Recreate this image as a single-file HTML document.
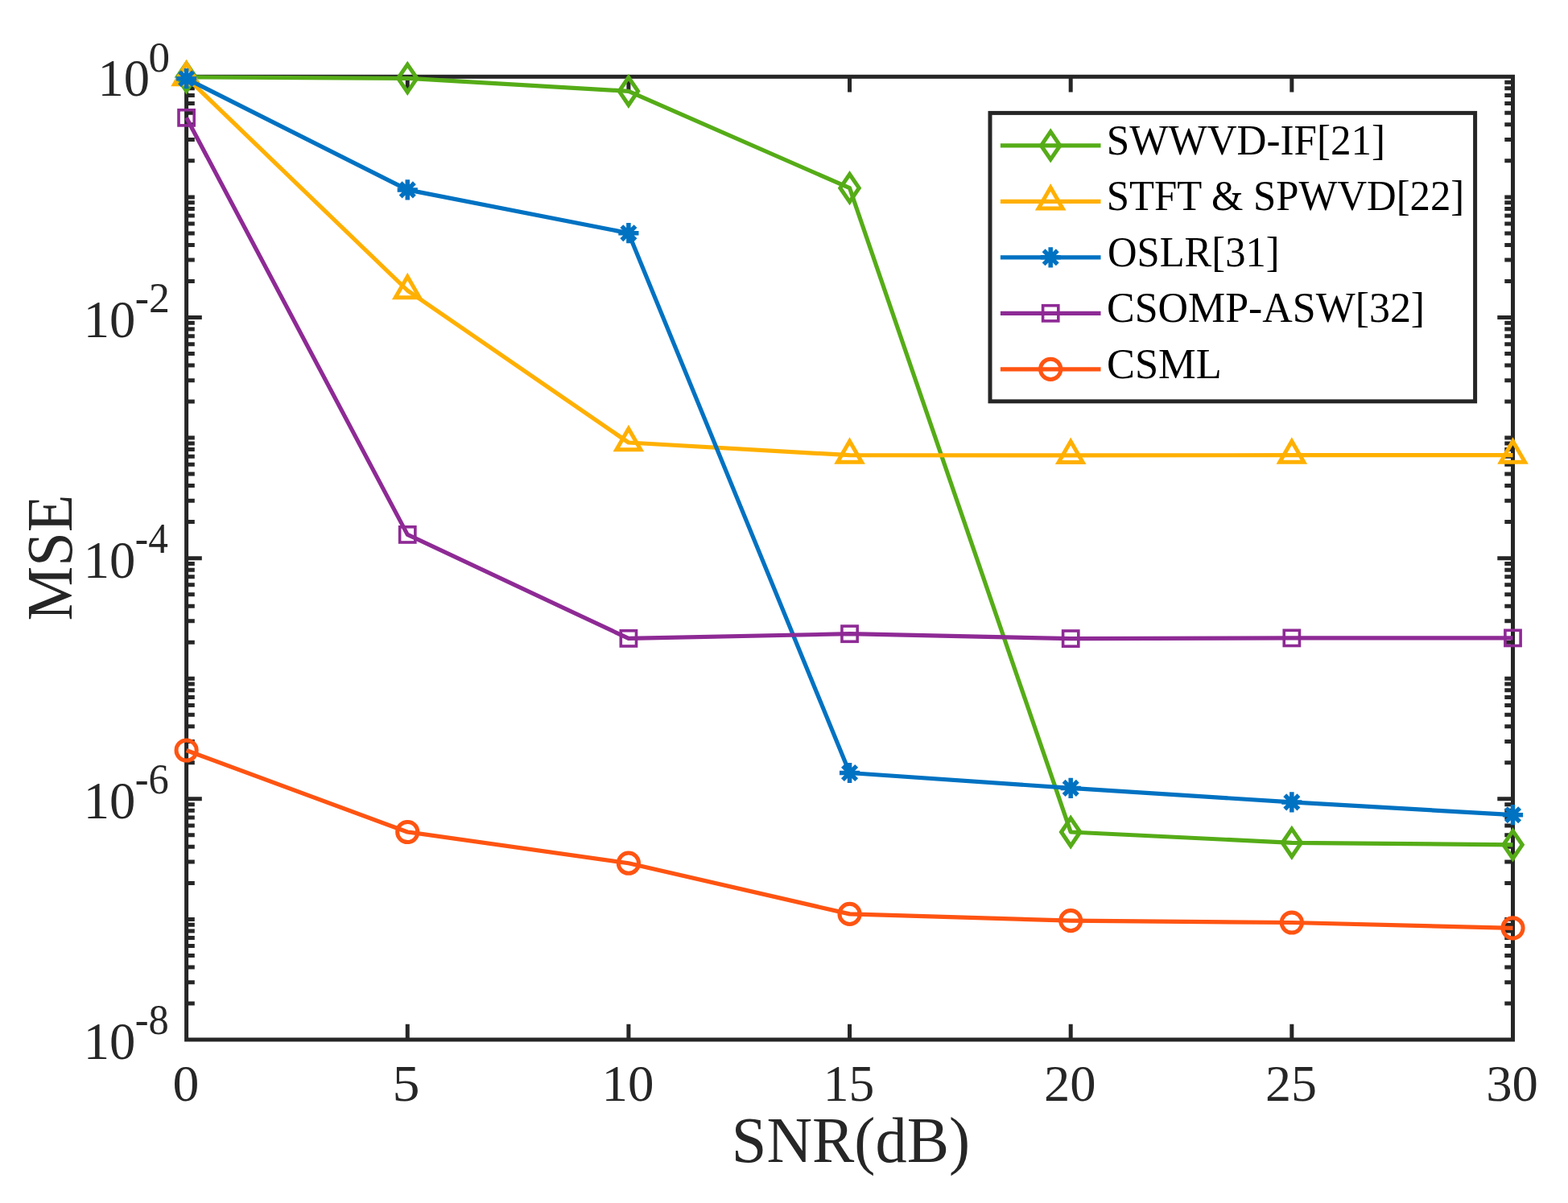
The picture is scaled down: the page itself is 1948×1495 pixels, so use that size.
<!DOCTYPE html><html><head><meta charset="utf-8"><title>MSE vs SNR</title><style>html,body{margin:0;padding:0;background:#fff;overflow:hidden}svg{display:block}</style></head><body><svg width="1948" height="1495" viewBox="0 0 1948 1495">
<rect width="1948" height="1495" fill="#fff"/>
<path d="M506.25 1292V1272.8M506.25 95.3V114.5M780.9 1292V1272.8M780.9 95.3V114.5M1055.55 1292V1272.8M1055.55 95.3V114.5M1330.2 1292V1272.8M1330.2 95.3V114.5M1604.85 1292V1272.8M1604.85 95.3V114.5M231.6 244.89H241.8M1879.5 244.89H1869.3M231.6 394.48H250.8M1879.5 394.48H1860.3M231.6 544.06H241.8M1879.5 544.06H1869.3M231.6 693.65H250.8M1879.5 693.65H1860.3M231.6 843.24H241.8M1879.5 843.24H1869.3M231.6 992.83H250.8M1879.5 992.83H1860.3M231.6 1142.41H241.8M1879.5 1142.41H1869.3M231.6 199.86H241.8M1879.5 199.86H1869.3M231.6 173.52H241.8M1879.5 173.52H1869.3M231.6 154.83H241.8M1879.5 154.83H1869.3M231.6 140.33H241.8M1879.5 140.33H1869.3M231.6 128.49H241.8M1879.5 128.49H1869.3M231.6 118.47H241.8M1879.5 118.47H1869.3M231.6 109.8H241.8M1879.5 109.8H1869.3M231.6 102.14H241.8M1879.5 102.14H1869.3M231.6 349.44H241.8M1879.5 349.44H1869.3M231.6 323.1H241.8M1879.5 323.1H1869.3M231.6 304.41H241.8M1879.5 304.41H1869.3M231.6 289.92H241.8M1879.5 289.92H1869.3M231.6 278.07H241.8M1879.5 278.07H1869.3M231.6 268.06H241.8M1879.5 268.06H1869.3M231.6 259.38H241.8M1879.5 259.38H1869.3M231.6 251.73H241.8M1879.5 251.73H1869.3M231.6 499.03H241.8M1879.5 499.03H1869.3M231.6 472.69H241.8M1879.5 472.69H1869.3M231.6 454H241.8M1879.5 454H1869.3M231.6 439.51H241.8M1879.5 439.51H1869.3M231.6 427.66H241.8M1879.5 427.66H1869.3M231.6 417.65H241.8M1879.5 417.65H1869.3M231.6 408.97H241.8M1879.5 408.97H1869.3M231.6 401.32H241.8M1879.5 401.32H1869.3M231.6 648.62H241.8M1879.5 648.62H1869.3M231.6 622.28H241.8M1879.5 622.28H1869.3M231.6 603.59H241.8M1879.5 603.59H1869.3M231.6 589.09H241.8M1879.5 589.09H1869.3M231.6 577.25H241.8M1879.5 577.25H1869.3M231.6 567.23H241.8M1879.5 567.23H1869.3M231.6 558.56H241.8M1879.5 558.56H1869.3M231.6 550.91H241.8M1879.5 550.91H1869.3M231.6 798.21H241.8M1879.5 798.21H1869.3M231.6 771.87H241.8M1879.5 771.87H1869.3M231.6 753.18H241.8M1879.5 753.18H1869.3M231.6 738.68H241.8M1879.5 738.68H1869.3M231.6 726.84H241.8M1879.5 726.84H1869.3M231.6 716.82H241.8M1879.5 716.82H1869.3M231.6 708.15H241.8M1879.5 708.15H1869.3M231.6 700.49H241.8M1879.5 700.49H1869.3M231.6 947.79H241.8M1879.5 947.79H1869.3M231.6 921.45H241.8M1879.5 921.45H1869.3M231.6 902.76H241.8M1879.5 902.76H1869.3M231.6 888.27H241.8M1879.5 888.27H1869.3M231.6 876.42H241.8M1879.5 876.42H1869.3M231.6 866.41H241.8M1879.5 866.41H1869.3M231.6 857.73H241.8M1879.5 857.73H1869.3M231.6 850.08H241.8M1879.5 850.08H1869.3M231.6 1097.38H241.8M1879.5 1097.38H1869.3M231.6 1071.04H241.8M1879.5 1071.04H1869.3M231.6 1052.35H241.8M1879.5 1052.35H1869.3M231.6 1037.86H241.8M1879.5 1037.86H1869.3M231.6 1026.01H241.8M1879.5 1026.01H1869.3M231.6 1016H241.8M1879.5 1016H1869.3M231.6 1007.32H241.8M1879.5 1007.32H1869.3M231.6 999.67H241.8M1879.5 999.67H1869.3M231.6 1246.97H241.8M1879.5 1246.97H1869.3M231.6 1220.63H241.8M1879.5 1220.63H1869.3M231.6 1201.94H241.8M1879.5 1201.94H1869.3M231.6 1187.44H241.8M1879.5 1187.44H1869.3M231.6 1175.6H241.8M1879.5 1175.6H1869.3M231.6 1165.58H241.8M1879.5 1165.58H1869.3M231.6 1156.91H241.8M1879.5 1156.91H1869.3M231.6 1149.26H241.8M1879.5 1149.26H1869.3" stroke="#262626" stroke-width="5" fill="none"/>
<rect x="231.6" y="95.3" width="1647.9" height="1196.7" fill="none" stroke="#262626" stroke-width="5.0"/>
<polyline points="231.6,95.9 506.25,97.3 780.9,113.3 1055.55,233.7 1330.2,1034 1604.85,1047.3 1879.5,1049.8" fill="none" stroke="#55AC17" stroke-width="5.2" stroke-linejoin="round" stroke-linecap="butt"/>
<path d="M231.6 78.7L243.3 95.9L231.6 113.1L219.9 95.9Z" fill="none" stroke="#55AC17" stroke-width="5" stroke-linejoin="miter" stroke-miterlimit="10"/>
<path d="M506.25 80.1L517.95 97.3L506.25 114.5L494.55 97.3Z" fill="none" stroke="#55AC17" stroke-width="5" stroke-linejoin="miter" stroke-miterlimit="10"/>
<path d="M780.9 96.1L792.6 113.3L780.9 130.5L769.2 113.3Z" fill="none" stroke="#55AC17" stroke-width="5" stroke-linejoin="miter" stroke-miterlimit="10"/>
<path d="M1055.55 216.5L1067.25 233.7L1055.55 250.9L1043.85 233.7Z" fill="none" stroke="#55AC17" stroke-width="5" stroke-linejoin="miter" stroke-miterlimit="10"/>
<path d="M1330.2 1016.8L1341.9 1034L1330.2 1051.2L1318.5 1034Z" fill="none" stroke="#55AC17" stroke-width="5" stroke-linejoin="miter" stroke-miterlimit="10"/>
<path d="M1604.85 1030.1L1616.55 1047.3L1604.85 1064.5L1593.15 1047.3Z" fill="none" stroke="#55AC17" stroke-width="5" stroke-linejoin="miter" stroke-miterlimit="10"/>
<path d="M1879.5 1032.6L1891.2 1049.8L1879.5 1067L1867.8 1049.8Z" fill="none" stroke="#55AC17" stroke-width="5" stroke-linejoin="miter" stroke-miterlimit="10"/>
<polyline points="231.6,96.1 506.25,361 780.9,550 1055.55,565.7 1330.2,565.8 1604.85,565.7 1879.5,565.7" fill="none" stroke="#FFB000" stroke-width="5.2" stroke-linejoin="round" stroke-linecap="butt"/>
<path d="M231.6 78.77L246.6 104.77L216.6 104.77Z" fill="none" stroke="#FFB000" stroke-width="5" stroke-linejoin="miter" stroke-miterlimit="10"/>
<path d="M506.25 343.67L521.25 369.67L491.25 369.67Z" fill="none" stroke="#FFB000" stroke-width="5" stroke-linejoin="miter" stroke-miterlimit="10"/>
<path d="M780.9 532.67L795.9 558.67L765.9 558.67Z" fill="none" stroke="#FFB000" stroke-width="5" stroke-linejoin="miter" stroke-miterlimit="10"/>
<path d="M1055.55 548.37L1070.55 574.37L1040.55 574.37Z" fill="none" stroke="#FFB000" stroke-width="5" stroke-linejoin="miter" stroke-miterlimit="10"/>
<path d="M1330.2 548.47L1345.2 574.47L1315.2 574.47Z" fill="none" stroke="#FFB000" stroke-width="5" stroke-linejoin="miter" stroke-miterlimit="10"/>
<path d="M1604.85 548.37L1619.85 574.37L1589.85 574.37Z" fill="none" stroke="#FFB000" stroke-width="5" stroke-linejoin="miter" stroke-miterlimit="10"/>
<path d="M1879.5 548.37L1894.5 574.37L1864.5 574.37Z" fill="none" stroke="#FFB000" stroke-width="5" stroke-linejoin="miter" stroke-miterlimit="10"/>
<polyline points="231.6,97.7 506.25,235.9 780.9,289.7 1055.55,960.5 1330.2,979.4 1604.85,996.9 1879.5,1012.7" fill="none" stroke="#0072C2" stroke-width="5.2" stroke-linejoin="round" stroke-linecap="butt"/>
<path d="M231.6 85.1V110.3M219 97.7H244.2M223 89.1L240.2 106.3M223 106.3L240.2 89.1" fill="none" stroke="#0072C2" stroke-width="5.5" stroke-linecap="butt"/>
<path d="M506.25 223.3V248.5M493.65 235.9H518.85M497.65 227.3L514.85 244.5M497.65 244.5L514.85 227.3" fill="none" stroke="#0072C2" stroke-width="5.5" stroke-linecap="butt"/>
<path d="M780.9 277.1V302.3M768.3 289.7H793.5M772.3 281.1L789.5 298.3M772.3 298.3L789.5 281.1" fill="none" stroke="#0072C2" stroke-width="5.5" stroke-linecap="butt"/>
<path d="M1055.55 947.9V973.1M1042.95 960.5H1068.15M1046.95 951.9L1064.15 969.1M1046.95 969.1L1064.15 951.9" fill="none" stroke="#0072C2" stroke-width="5.5" stroke-linecap="butt"/>
<path d="M1330.2 966.8V992M1317.6 979.4H1342.8M1321.6 970.8L1338.8 988M1321.6 988L1338.8 970.8" fill="none" stroke="#0072C2" stroke-width="5.5" stroke-linecap="butt"/>
<path d="M1604.85 984.3V1009.5M1592.25 996.9H1617.45M1596.25 988.3L1613.45 1005.5M1596.25 1005.5L1613.45 988.3" fill="none" stroke="#0072C2" stroke-width="5.5" stroke-linecap="butt"/>
<path d="M1879.5 1000.1V1025.3M1866.9 1012.7H1892.1M1870.9 1004.1L1888.1 1021.3M1870.9 1021.3L1888.1 1004.1" fill="none" stroke="#0072C2" stroke-width="5.5" stroke-linecap="butt"/>
<polyline points="231.6,146.3 506.25,664.4 780.9,793.4 1055.55,787.7 1330.2,793.6 1604.85,792.9 1879.5,792.9" fill="none" stroke="#8E2A95" stroke-width="5.2" stroke-linejoin="round" stroke-linecap="butt"/>
<rect x="222" y="136.7" width="19.2" height="19.2" fill="none" stroke="#8E2A95" stroke-width="3.6"/>
<rect x="496.65" y="654.8" width="19.2" height="19.2" fill="none" stroke="#8E2A95" stroke-width="3.6"/>
<rect x="771.3" y="783.8" width="19.2" height="19.2" fill="none" stroke="#8E2A95" stroke-width="3.6"/>
<rect x="1045.95" y="778.1" width="19.2" height="19.2" fill="none" stroke="#8E2A95" stroke-width="3.6"/>
<rect x="1320.6" y="784" width="19.2" height="19.2" fill="none" stroke="#8E2A95" stroke-width="3.6"/>
<rect x="1595.25" y="783.3" width="19.2" height="19.2" fill="none" stroke="#8E2A95" stroke-width="3.6"/>
<rect x="1869.9" y="783.3" width="19.2" height="19.2" fill="none" stroke="#8E2A95" stroke-width="3.6"/>
<polyline points="231.6,932.5 506.25,1034 780.9,1072.7 1055.55,1135.9 1330.2,1144.1 1604.85,1146.5 1879.5,1153.3" fill="none" stroke="#FF5412" stroke-width="5.2" stroke-linejoin="round" stroke-linecap="butt"/>
<circle cx="231.6" cy="932.5" r="12.6" fill="none" stroke="#FF5412" stroke-width="5"/>
<circle cx="506.25" cy="1034" r="12.6" fill="none" stroke="#FF5412" stroke-width="5"/>
<circle cx="780.9" cy="1072.7" r="12.6" fill="none" stroke="#FF5412" stroke-width="5"/>
<circle cx="1055.55" cy="1135.9" r="12.6" fill="none" stroke="#FF5412" stroke-width="5"/>
<circle cx="1330.2" cy="1144.1" r="12.6" fill="none" stroke="#FF5412" stroke-width="5"/>
<circle cx="1604.85" cy="1146.5" r="12.6" fill="none" stroke="#FF5412" stroke-width="5"/>
<circle cx="1879.5" cy="1153.3" r="12.6" fill="none" stroke="#FF5412" stroke-width="5"/>
<rect x="1230" y="140.4" width="602.6" height="358.4" fill="#fff" stroke="#262626" stroke-width="5"/>
<path d="M1242.9 180.9H1367.5" stroke="#55AC17" stroke-width="5.2"/>
<path d="M1305.2 163.7L1316.9 180.9L1305.2 198.1L1293.5 180.9Z" fill="none" stroke="#55AC17" stroke-width="5" stroke-linejoin="miter" stroke-miterlimit="10"/>
<path d="M1242.9 250.4H1367.5" stroke="#FFB000" stroke-width="5.2"/>
<path d="M1305.2 233.07L1320.2 259.07L1290.2 259.07Z" fill="none" stroke="#FFB000" stroke-width="5" stroke-linejoin="miter" stroke-miterlimit="10"/>
<path d="M1242.9 319.8H1367.5" stroke="#0072C2" stroke-width="5.2"/>
<path d="M1305.2 307.2V332.4M1292.6 319.8H1317.8M1296.6 311.2L1313.8 328.4M1296.6 328.4L1313.8 311.2" fill="none" stroke="#0072C2" stroke-width="5.5" stroke-linecap="butt"/>
<path d="M1242.9 389.3H1367.5" stroke="#8E2A95" stroke-width="5.2"/>
<rect x="1295.6" y="379.7" width="19.2" height="19.2" fill="none" stroke="#8E2A95" stroke-width="3.6"/>
<path d="M1242.9 458.8H1367.5" stroke="#FF5412" stroke-width="5.2"/>
<circle cx="1305.2" cy="458.8" r="12.6" fill="none" stroke="#FF5412" stroke-width="5"/>
<g font-family="'Liberation Serif', serif" fill="#000">
<text fill="#262626" x="121.4" y="119.45" font-size="65.97" textLength="64.61" lengthAdjust="spacingAndGlyphs">10</text>
<text fill="#262626" x="184.4" y="89.2" font-size="52.63" textLength="26.57" lengthAdjust="spacingAndGlyphs">0</text>
<text fill="#262626" x="103.8" y="418.62" font-size="65.97" textLength="64.61" lengthAdjust="spacingAndGlyphs">10</text>
<text fill="#262626" x="167.8" y="387.88" font-size="52.41" textLength="43.1" lengthAdjust="spacingAndGlyphs">-2</text>
<text fill="#262626" x="103.8" y="717.8" font-size="65.97" textLength="64.61" lengthAdjust="spacingAndGlyphs">10</text>
<text fill="#262626" x="167.8" y="687.05" font-size="52.41" textLength="41" lengthAdjust="spacingAndGlyphs">-4</text>
<text fill="#262626" x="103.8" y="1016.98" font-size="65.97" textLength="64.61" lengthAdjust="spacingAndGlyphs">10</text>
<text fill="#262626" x="167.8" y="986.23" font-size="52.41" textLength="42.03" lengthAdjust="spacingAndGlyphs">-6</text>
<text fill="#262626" x="103.8" y="1316.15" font-size="65.97" textLength="64.61" lengthAdjust="spacingAndGlyphs">10</text>
<text fill="#262626" x="167.8" y="1285.4" font-size="52.41" textLength="42.03" lengthAdjust="spacingAndGlyphs">-8</text>
<text fill="#262626" x="214.6" y="1367.9" font-size="63.62" textLength="32.93" lengthAdjust="spacingAndGlyphs">0</text>
<text fill="#262626" x="487.6" y="1367.9" font-size="63.62" textLength="34.03" lengthAdjust="spacingAndGlyphs">5</text>
<text fill="#262626" x="747.6" y="1367.9" font-size="63.62" textLength="64.98" lengthAdjust="spacingAndGlyphs">10</text>
<text fill="#262626" x="1022.8" y="1367.9" font-size="63.62" textLength="63.63" lengthAdjust="spacingAndGlyphs">15</text>
<text fill="#262626" x="1297" y="1367.9" font-size="63.62" textLength="64.6" lengthAdjust="spacingAndGlyphs">20</text>
<text fill="#262626" x="1572" y="1367.9" font-size="63.62" textLength="64.05" lengthAdjust="spacingAndGlyphs">25</text>
<text fill="#262626" x="1846.2" y="1367.9" font-size="63.62" textLength="64.71" lengthAdjust="spacingAndGlyphs">30</text>
<text fill="#000" x="1374.8" y="192.2" font-size="52.86" textLength="346.27" lengthAdjust="spacingAndGlyphs">SWWVD-IF[21]</text>
<text fill="#000" x="1374.8" y="261.2" font-size="52.86" textLength="444.38" lengthAdjust="spacingAndGlyphs">STFT &amp; SPWVD[22]</text>
<text fill="#000" x="1376" y="330.9" font-size="52.86" textLength="213.62" lengthAdjust="spacingAndGlyphs">OSLR[31]</text>
<text fill="#000" x="1375" y="400.3" font-size="52.86" textLength="395.15" lengthAdjust="spacingAndGlyphs">CSOMP-ASW[32]</text>
<text fill="#000" x="1375" y="470.3" font-size="53.31" textLength="142.75" lengthAdjust="spacingAndGlyphs">CSML</text>
<text fill="#262626" x="908.8" y="1444.2" font-size="81.41" textLength="296.28" lengthAdjust="spacingAndGlyphs">SNR(dB)</text>
<text fill="#262626" x="-771.4" y="89.2" font-size="79.42" textLength="156.63" lengthAdjust="spacingAndGlyphs" transform="rotate(-90)">MSE</text>
</g></svg></body></html>
